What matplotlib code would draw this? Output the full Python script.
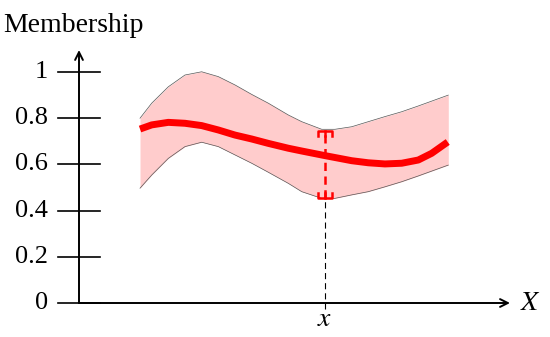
import numpy as np
import matplotlib
matplotlib.use("Agg")
import matplotlib.pyplot as plt

# band edges
band_x = [1.419, 1.691, 2.077, 2.465, 2.853, 3.240, 3.628, 4.016, 4.402, 4.867,
          5.179, 5.644, 5.953, 6.342, 6.728, 7.116, 7.505, 7.891, 8.588]
band_upper = [0.800, 0.865, 0.936, 0.987, 1.001, 0.980, 0.944, 0.903, 0.865, 0.814,
              0.785, 0.752, 0.752, 0.763, 0.785, 0.807, 0.828, 0.853, 0.900]
band_lower = [0.497, 0.554, 0.626, 0.677, 0.696, 0.677, 0.641, 0.605, 0.566, 0.518,
              0.482, 0.453, 0.453, 0.468, 0.482, 0.503, 0.525, 0.550, 0.597]

# membership curve
curve_x = [1.419, 1.691, 2.077, 2.465, 2.853, 3.240, 3.628, 4.016, 4.402, 4.867,
           5.179, 5.721, 6.342, 6.728, 7.116, 7.505, 7.891, 8.202, 8.575]
curve_y = [0.753, 0.771, 0.782, 0.778, 0.768, 0.749, 0.727, 0.710, 0.691, 0.670,
           0.658, 0.638, 0.616, 0.607, 0.602, 0.605, 0.619, 0.648, 0.697]

# marked point x and its interval
x_mark = 5.721
interval = [0.455, 0.745]

y_ticks = [0, 0.2, 0.4, 0.6, 0.8, 1]
y_tick_labels = ["0", "0.2", "0.4", "0.6", "0.8", "1"]

plt.rcParams["font.family"] = ["Liberation Serif", "DejaVu Serif"]
plt.rcParams["mathtext.fontset"] = "stix"

fig = plt.figure(figsize=(5.5, 3.37), dpi=100)
ax = fig.add_axes([0, 0, 1, 1])
ax.set_xlim(-79 / 43, 471 / 43)
ax.set_ylim(-34 / 231, 303 / 231)
ax.axis("off")

# band
ax.fill_between(band_x, band_lower, band_upper, color="#ffcccc", lw=0)
ax.plot(band_x, band_upper, color="#555555", lw=0.5)
ax.plot(band_x, band_lower, color="#555555", lw=0.5)

# curve
ax.plot(curve_x, curve_y, color="red", lw=5, solid_capstyle="butt", solid_joinstyle="round")

# vertical guide to the x axis
ax.plot([x_mark, x_mark], [-0.025, interval[0]], color="black", lw=0.8, dashes=(5.5, 3.6))

# red interval with bracket caps
ax.plot([x_mark, x_mark], interval, color="red", lw=1.8, dashes=(3.3, 2.2))
cap_w = 0.17
cap_h = 0.022
for yv, sgn in [(interval[1], -1), (interval[0], 1)]:
    ax.plot([x_mark - cap_w, x_mark - cap_w, x_mark + cap_w, x_mark + cap_w],
            [yv + sgn * cap_h, yv, yv, yv + sgn * cap_h], color="red", lw=1.8)
    ax.plot([x_mark, x_mark], [yv, yv + sgn * cap_h], color="red", lw=1.8)

# axes with arrows
ax.annotate("", xy=(0, 253 / 231), xytext=(0, 0),
            arrowprops=dict(arrowstyle="->", color="black", lw=1.4, shrinkA=0, shrinkB=0,
                            mutation_scale=14))
ax.annotate("", xy=(431 / 43, 0), xytext=(0, 0),
            arrowprops=dict(arrowstyle="->", color="black", lw=1.4, shrinkA=0, shrinkB=0,
                            mutation_scale=14))

for t, lab in zip(y_ticks, y_tick_labels):
    ax.plot([-0.49, 0.49], [t, t], color="black", lw=1.2)
    ax.text(-0.72, t, lab, ha="right", va="center", fontsize=19)

ax.text(3 / 43 - 79 / 43, 271 / 231, "Membership", ha="left", va="baseline", fontsize=20)
ax.text(x_mark, -0.07, r"$x$", ha="center", va="center", fontsize=20)
ax.text(10.51, 0, r"$X$", ha="center", va="center", fontsize=20)

fig.savefig("out.png", dpi=100)
